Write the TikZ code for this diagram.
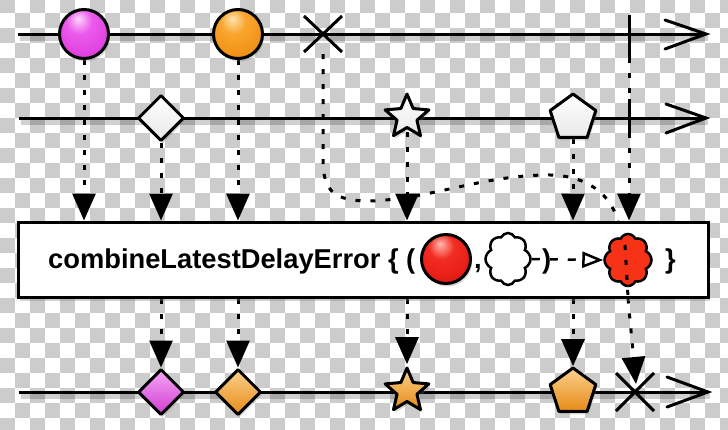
\documentclass[tikz,border=0pt]{standalone}
\usepackage{fontspec}
\setmainfont{Liberation Sans}
\usetikzlibrary{arrows.meta,shapes.geometric,shapes.symbols,shadows,calc}
\definecolor{chk}{RGB}{204,204,204}
\definecolor{mag}{RGB}{226,66,226}
\definecolor{magl}{RGB}{246,165,246}
\definecolor{org}{RGB}{243,146,24}
\definecolor{orgl}{RGB}{251,208,140}
\definecolor{crd}{RGB}{246,50,22}
\definecolor{mgA}{RGB}{252,215,252}
\definecolor{mgB}{RGB}{236,90,236}
\definecolor{mgC}{RGB}{218,52,218}
\definecolor{mgD}{RGB}{165,20,165}
\definecolor{ogA}{RGB}{255,228,175}
\definecolor{ogB}{RGB}{249,165,45}
\definecolor{ogC}{RGB}{236,136,12}
\definecolor{ogD}{RGB}{185,95,0}
\definecolor{rdA}{RGB}{255,185,175}
\definecolor{rdB}{RGB}{242,45,35}
\definecolor{rdC}{RGB}{222,18,12}
\definecolor{rdD}{RGB}{155,0,0}
\pgfdeclareradialshading{gm}{\pgfpoint{-6bp}{16bp}}{color(0bp)=(mgA); color(13bp)=(mgB); color(40bp)=(mgC); color(68bp)=(mgD)}
\pgfdeclareradialshading{go}{\pgfpoint{-6bp}{16bp}}{color(0bp)=(ogA); color(13bp)=(ogB); color(40bp)=(ogC); color(68bp)=(ogD)}
\pgfdeclareradialshading{gr}{\pgfpoint{-6bp}{16bp}}{color(0bp)=(rdA); color(13bp)=(rdB); color(40bp)=(rdC); color(68bp)=(rdD)}
\pgfdeclarelayer{checker}
\pgfdeclarelayer{bg}
\pgfsetlayers{checker,bg,main}
\begin{document}
\begin{tikzpicture}[x=1pt,y=-1pt,
 tline/.style={line width=3pt},
 lsh/.style={line width=6pt, draw=black, opacity=0.18},
 dots/.style={line width=3pt, dash pattern=on 5pt off 10pt},
 tipd/.style={-{Triangle[length=27pt,width=23pt]}},
 shp/.style={draw, line width=3pt, line join=round, inner sep=0pt, drop shadow={shadow xshift=1.5pt,shadow yshift=-3pt,opacity=0.3}},
 ballnode/.style={shp, circle, minimum size=49pt},
 dia/.style={shp, diamond, minimum size=46pt},
 strn/.style={shp, star, star points=5, star point ratio=2.2, minimum size=46pt},
 pent/.style={shp, regular polygon, regular polygon sides=5, minimum size=48pt},
 whitegrad/.style={top color=white, bottom color=black!9},
 maggrad/.style={top color=magl, bottom color=mag!92!black},
 orggrad/.style={top color=orgl, bottom color=org!95!black},
 xmark/.style={line width=3pt},
 cld/.style={draw, line width=2.5pt, cloud, cloud puffs=8, cloud puff arc=130, cloud ignores aspect, inner sep=0pt},
 lbl/.style={font=\bfseries\fontsize{27.3}{30}\selectfont, inner sep=0pt, anchor=base west}
]
\useasboundingbox (0,0) rectangle (728,429);
% checkerboard
\begin{pgfonlayer}{checker}
\begin{scope}
\clip (0,0) rectangle (728,429);
\fill[white] (0,0) rectangle (728,429);
\foreach \c in {0,...,48}{
  \foreach \r in {-1,...,27}{
    \pgfmathtruncatemacro\pty{mod(\c+\r+2,2)}
    \ifnum\pty=1 \fill[chk] (15*\c,13.33+15*\r) rectangle ++(15,15);\fi
  }
}
\end{scope}
\end{pgfonlayer}

% timeline coordinates
\coordinate (l1s) at (18,34);  \coordinate (l1e) at (706,34);
\coordinate (l1a) at (665,20); \coordinate (l1b) at (665,49);
\coordinate (l2s) at (19,118); \coordinate (l2e) at (706,118);
\coordinate (l2a) at (666,104); \coordinate (l2b) at (666,133);
\coordinate (l3s) at (19,392); \coordinate (l3e) at (708,392);
\coordinate (l3a) at (667,377); \coordinate (l3b) at (667,407);

% top line items
\node[ballnode, shading=gm] (m1) at (84,34) {};
\node[ballnode, shading=go] (o1) at (238,34) {};
\coordinate (x1) at (323,34);
\coordinate (x1b) at (323,54);
\coordinate (c1a) at (629,15); \coordinate (c1b) at (629,58);
\coordinate (c2a) at (629,99); \coordinate (c2b) at (629,138);

% second line items
\node[dia, whitegrad] (d1) at (161,118) {};
\node[strn, whitegrad] (s1) at (407,117) {};
\node[pent, whitegrad] (p1) at (573,118) {};

% box
\node[draw, line width=3pt, fill=white, minimum width=690pt, minimum height=75pt, inner sep=0pt,
      drop shadow={shadow xshift=2pt,shadow yshift=-4pt,opacity=0.35}] (bx) at (363,259.5) {};
\node[lbl] (txt) at (48,268) {combineLatestDelayError \{ (};
\node[ballnode, shading=gr, drop shadow={opacity=0}] (rb) at (446,259) {};
\node[lbl] (cm) at (474,268) {,};
\node[cld, fill=white, minimum width=45pt, minimum height=52pt] (wc) at (508,259) {};
\node[lbl] (rp) at (542,268) {)};
\node[cld, fill=crd, minimum width=47pt, minimum height=52pt] (rc) at (628,260) {};
\node[lbl] (rbr) at (665,268) {\}};
\draw[line width=2.5pt, dash pattern=on 8pt off 10pt,
      -{Triangle[open,length=21pt,width=16pt,line width=2.5pt]}] (wc.east) -- (rc.west);
\draw[dots] ($(rc)+(-3,-15)$) -- ($(rc)+(0,37)$);

% bottom line items
\node[dia, maggrad] (md) at (161,392) {};
\node[dia, orggrad] (od) at (238,392) {};
\node[strn, orggrad] (os) at (407,391) {};
\node[pent, orggrad] (op) at (573,392) {};
\coordinate (x2) at (635,392);
\coordinate (x2t) at (636,384);
\coordinate (ec) at (618,222);

\begin{pgfonlayer}{bg}
  % line shadows
  \foreach \s/\e in {l1s/l1e,l2s/l2e,l3s/l3e}{
    \draw[lsh] ($(\s)+(2,4)$) -- ($(\e)+(2,4)$);
  }
  % timelines
  \draw[tline] (l1s) -- (l1e);
  \draw[tline, line cap=round] (l1a) -- (l1e) -- (l1b);
  \draw[tline] (l2s) -- (l2e);
  \draw[tline, line cap=round] (l2a) -- (l2e) -- (l2b);
  \draw[tline] (l3s) -- (l3e);
  \draw[tline, line cap=round] (l3a) -- (l3e) -- (l3b);
  % connectors above box
  \draw[dots, tipd] (m1.south) -- (m1.south |- bx.north);
  \draw[dots, tipd] (d1.south) -- (d1.south |- bx.north);
  \draw[dots, tipd] (o1.south) -- (o1.south |- bx.north);
  \draw[dots, tipd] (s1.center) -- (s1.center |- bx.north);
  \draw[dots, tipd] (p1.south) -- (p1.south |- bx.north);
  \draw[dots, tipd] (c1b) -- (c1b |- bx.north);
  \draw[dots] (x1b) -- (323,160) .. controls (323,192) and (335,201) .. (370,201)
     .. controls (430,199) and (480,176) .. (545,175)
     .. controls (588,174) and (612,196) .. (ec);
  % connectors below box
  \draw[dots, tipd] (md.north |- bx.south) -- (md.north);
  \draw[dots, tipd] (od.north |- bx.south) -- (od.north);
  \draw[dots, tipd] (os.north |- bx.south) -- (os.north);
  \draw[dots, tipd] (op.north |- bx.south) -- (op.north);
  \draw[dots, tipd] (rc.south |- bx.south) -- (x2t);
\end{pgfonlayer}

% X marks and completion ticks
\draw[xmark] ($(x1)+(-19,-18)$) -- ($(x1)+(19,18)$);
\draw[xmark] ($(x1)+(-19,18)$) -- ($(x1)+(19,-18)$);
\draw[xmark] ($(x2)+(-19,-19)$) -- ($(x2)+(19,19)$);
\draw[xmark] ($(x2)+(-19,19)$) -- ($(x2)+(19,-19)$);
\draw[tline] (c1a) -- (c1b);
\draw[tline] (c2a) -- (c2b);
\end{tikzpicture}
\end{document}
